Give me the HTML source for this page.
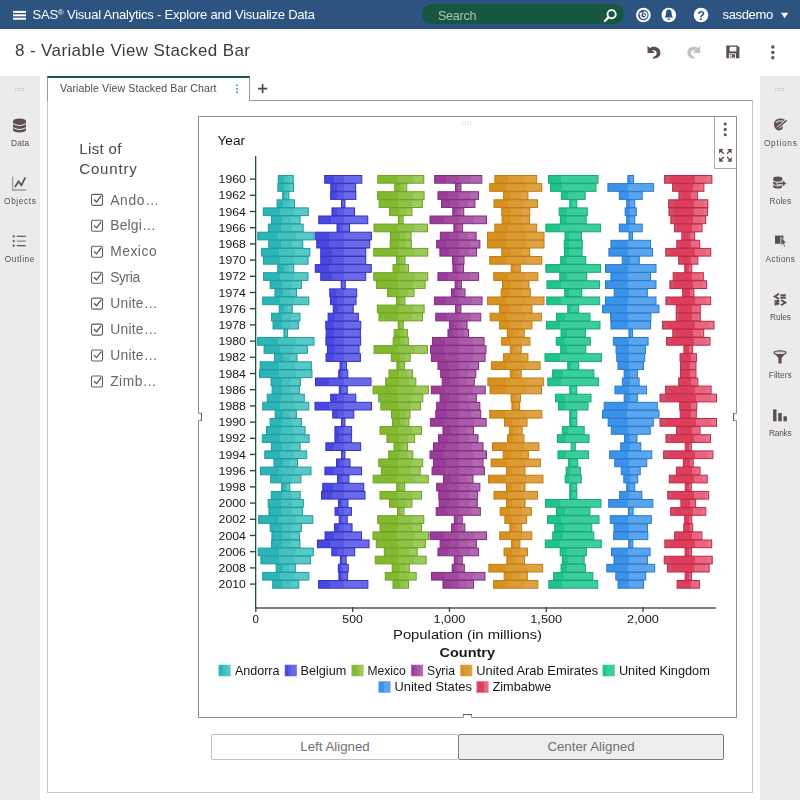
<!DOCTYPE html>
<html><head><meta charset="utf-8">
<style>
*{box-sizing:border-box;margin:0;padding:0}
html,body{width:800px;height:800px;overflow:hidden;background:#fff;font-family:"Liberation Sans",sans-serif;}
.abs{position:absolute}
#topbar{left:0;top:0;width:800px;height:29px;background:#2d5380}
#topbar .title{left:32px;top:6px;color:#fff;font-size:13px;white-space:nowrap;letter-spacing:-0.1px}
#search{left:422px;top:5px;width:202px;height:20px;border-radius:10px;background:#18573f}
#search span{position:absolute;left:16px;top:3px;font-size:12.5px;color:#a9c6b8}
#titlebar{left:0;top:29px;width:800px;height:47px;background:#fff}
#titlebar .t{left:15px;top:11px;font-size:17.5px;color:#3a3a3a;white-space:nowrap;letter-spacing:0.35px}
#leftpanel{left:0;top:76px;width:40px;height:724px;background:#ebebeb}
#rightpanel{left:760px;top:76px;width:40px;height:724px;background:#ebebeb}
.plabel{position:absolute;width:40px;text-align:center;font-size:8.5px;color:#5a4e4e}
#tab{left:47px;top:76px;width:203px;height:25px;border-top:2px solid #0e5c47;border-left:1px solid #9a9a9a;border-right:1px solid #9a9a9a;background:#fff}
#tab span{position:absolute;left:13px;top:4px;font-size:10.5px;color:#444;white-space:nowrap}
#canvas{left:47px;top:100px;width:706px;height:693px;border:1px solid #c8c8c8;border-top:1px solid #9a9a9a;background:#fff}
#chartframe{left:198px;top:116px;width:539px;height:602px;border:1px solid #8e8e8e;background:#fff}
.btn{position:absolute;top:734px;height:26px;font-size:13.3px;color:#707070;text-align:center;line-height:24px;border:1px solid #c2c2c2;border-radius:2px}
.ct{font-family:"Liberation Sans",sans-serif;fill:#161616}
</style></head><body>
<div id="topbar" class="abs"></div>
<div id="titlebar" class="abs"></div>
<div id="leftpanel" class="abs"></div>
<div id="rightpanel" class="abs"></div>
<div id="canvas" class="abs"></div>
<div id="tab" class="abs"></div>
<div id="chartframe" class="abs"></div>
<!--UISTART--><svg class="abs" style="left:0;top:0;will-change:transform" width="800" height="800" viewBox="0 0 800 800">
<g fill="#fff"><rect x="13" y="10.9" width="13" height="2"/><rect x="13" y="14.3" width="13" height="2"/><rect x="13" y="17.7" width="13" height="2"/></g>
<text x="32.5" y="19" font-size="13" fill="#fff" font-family="Liberation Sans, sans-serif" textLength="282.5" lengthAdjust="spacing">SAS<tspan font-size="8" dy="-4">®</tspan><tspan dy="4"> Visual Analytics - Explore and Visualize Data</tspan></text>
<rect x="422" y="4" width="202" height="20" rx="10" fill="#18573f"/>
<text x="438" y="19.5" font-size="12.6" fill="#a8c4b6" font-family="Liberation Sans, sans-serif" textLength="38.5" lengthAdjust="spacing">Search</text>
<circle cx="611.6" cy="14.2" r="4.1" fill="none" stroke="#fff" stroke-width="1.9"/><path d="M608.7 17.3 L604.9 20.9" stroke="#fff" stroke-width="2.2" stroke-linecap="round"/>
<circle cx="643.4" cy="15" r="6.3" fill="none" stroke="#fff" stroke-width="2.1"/>
<path d="M640.5 15.3 A3.1 3.1 0 1 0 643.6 12" fill="none" stroke="#fff" stroke-width="1.5"/><path d="M639 13 L642.8 12.2 L640.8 15.8 Z" fill="#fff"/><path d="M643.7 13.4 V15.5 H645.2" fill="none" stroke="#fff" stroke-width="1.1"/>
<circle cx="668.8" cy="15" r="7.3" fill="#fff"/>
<path d="M668.8 9.6 C666.4 9.6 665.9 12 665.9 14 C665.9 16 665 17 664.4 17.6 H673.2 C672.6 17 671.7 16 671.7 14 C671.7 12 671.2 9.6 668.8 9.6 Z" fill="#2d5380"/><rect x="667.3" y="18.5" width="3" height="1.3" rx="0.6" fill="#2d5380"/>
<circle cx="701" cy="15" r="7.3" fill="#fff"/>
<text x="701" y="19.6" font-size="12.5" font-weight="bold" fill="#2d5380" text-anchor="middle" font-family="Liberation Sans, sans-serif">?</text>
<text x="722.5" y="18.8" font-size="13" fill="#fff" font-family="Liberation Sans, sans-serif" textLength="50.7" lengthAdjust="spacing">sasdemo</text>
<path d="M781 12.8 H788.2 L784.6 18.2 Z" fill="#fff"/>
<text x="15" y="56" font-size="17" fill="#3c3c3c" font-family="Liberation Sans, sans-serif" textLength="235" lengthAdjust="spacing">8 - Variable View Stacked Bar</text>
<g transform="translate(647.5 0)"><path d="M0 45.8 L0 53 L7.2 53 L4.8 50.6 C6.6 49.6 9.2 50.4 9.2 53.2 C9.2 55.2 7.8 56.4 5.4 56.8 L5.8 58.8 C10 58.6 12.9 56.4 12.9 52.8 C12.9 47.4 6.6 45 2.3 48.1 Z" fill="#5e4f4f"/></g>
<g transform="translate(700.1999999999999 0) scale(-1 1)"><path d="M0 45.8 L0 53 L7.2 53 L4.8 50.6 C6.6 49.6 9.2 50.4 9.2 53.2 C9.2 55.2 7.8 56.4 5.4 56.8 L5.8 58.8 C10 58.6 12.9 56.4 12.9 52.8 C12.9 47.4 6.6 45 2.3 48.1 Z" fill="#c2c2c2"/></g>
<path d="M726.3 45.6 H737.4 L739.4 47.6 V58.3 H726.3 Z" fill="#5e4f4f"/><rect x="729.6" y="46.8" width="6.8" height="4.6" fill="#fff"/><rect x="728.9" y="53.4" width="7" height="4.9" fill="#fff"/><rect x="729.8" y="54.3" width="5.2" height="3.2" fill="#5e4f4f"/><rect x="730.4" y="55" width="1.6" height="1.8" fill="#fff"/>
<g fill="#5e4f4f"><circle cx="772.8" cy="47" r="1.7"/><circle cx="772.8" cy="52.4" r="1.7"/><circle cx="772.8" cy="57.7" r="1.7"/></g>
<text x="60" y="92.4" font-size="10.6" fill="#4c4c4c" font-family="Liberation Sans, sans-serif" textLength="156.5" lengthAdjust="spacing">Variable View Stacked Bar Chart</text>
<g fill="#3a80d2"><circle cx="237" cy="85.3" r="0.95"/><circle cx="237" cy="88.8" r="0.95"/><circle cx="237" cy="92.3" r="0.95"/></g>
<path d="M258 88.6 H267.2 M262.6 84 V93.2" stroke="#554848" stroke-width="1.7"/>
<rect x="15.2" y="88.0" width="1" height="1" fill="#b4b4b4"/><rect x="15.2" y="90.1" width="1" height="1" fill="#b4b4b4"/><rect x="17.8" y="88.0" width="1" height="1" fill="#b4b4b4"/><rect x="17.8" y="90.1" width="1" height="1" fill="#b4b4b4"/><rect x="20.4" y="88.0" width="1" height="1" fill="#b4b4b4"/><rect x="20.4" y="90.1" width="1" height="1" fill="#b4b4b4"/><rect x="23.0" y="88.0" width="1" height="1" fill="#b4b4b4"/><rect x="23.0" y="90.1" width="1" height="1" fill="#b4b4b4"/>
<rect x="775.2" y="88.0" width="1" height="1" fill="#b4b4b4"/><rect x="775.2" y="90.1" width="1" height="1" fill="#b4b4b4"/><rect x="777.8" y="88.0" width="1" height="1" fill="#b4b4b4"/><rect x="777.8" y="90.1" width="1" height="1" fill="#b4b4b4"/><rect x="780.4" y="88.0" width="1" height="1" fill="#b4b4b4"/><rect x="780.4" y="90.1" width="1" height="1" fill="#b4b4b4"/><rect x="783.0" y="88.0" width="1" height="1" fill="#b4b4b4"/><rect x="783.0" y="90.1" width="1" height="1" fill="#b4b4b4"/>
<rect x="462.2" y="121.6" width="1" height="1" fill="#c4c4c4"/><rect x="462.2" y="123.7" width="1" height="1" fill="#c4c4c4"/><rect x="464.8" y="121.6" width="1" height="1" fill="#c4c4c4"/><rect x="464.8" y="123.7" width="1" height="1" fill="#c4c4c4"/><rect x="467.4" y="121.6" width="1" height="1" fill="#c4c4c4"/><rect x="467.4" y="123.7" width="1" height="1" fill="#c4c4c4"/><rect x="470.0" y="121.6" width="1" height="1" fill="#c4c4c4"/><rect x="470.0" y="123.7" width="1" height="1" fill="#c4c4c4"/>
<path d="M13 121 A6.5 2.6 0 0 1 26 121 V130 A6.5 2.6 0 0 1 13 130 Z" fill="#5e4f4f"/><path d="M13 123.6 Q19.5 127.4 26 123.6 M13 127.6 Q19.5 131.4 26 127.6" fill="none" stroke="#ebebeb" stroke-width="1.1"/>
<path d="M12.7 176.4 V190 H26.2" fill="none" stroke="#a39a9a" stroke-width="1.3"/>
<path d="M15 187 L18.6 181.3 L21.4 185.4 L25.3 177.4" fill="none" stroke="#5e4f4f" stroke-width="1.7" stroke-linejoin="miter"/>
<circle cx="13.7" cy="236.3" r="1.1" fill="#5e4f4f"/><rect x="16.8" y="235.70000000000002" width="9" height="1.2" fill="#5e4f4f"/>
<circle cx="13.7" cy="241.1" r="1.1" fill="#5e4f4f"/><rect x="16.8" y="240.5" width="9" height="1.2" fill="#7f8893"/>
<circle cx="13.7" cy="245.7" r="1.1" fill="#5e4f4f"/><rect x="16.8" y="245.1" width="9" height="1.2" fill="#5e4f4f"/>
<text x="11" y="145.7" font-size="8.3" fill="#5a4d4d" font-family="Liberation Sans, sans-serif" textLength="18" lengthAdjust="spacing">Data</text>
<text x="4.1" y="203.7" font-size="8.3" fill="#5a4d4d" font-family="Liberation Sans, sans-serif" textLength="31.7" lengthAdjust="spacing">Objects</text>
<text x="4.8" y="261.8" font-size="8.3" fill="#5a4d4d" font-family="Liberation Sans, sans-serif" textLength="29.6" lengthAdjust="spacing">Outline</text>
<text x="763.9" y="145.9" font-size="8.3" fill="#5a4d4d" font-family="Liberation Sans, sans-serif" textLength="32.9" lengthAdjust="spacing">Options</text>
<text x="769.6" y="203.8" font-size="8.3" fill="#5a4d4d" font-family="Liberation Sans, sans-serif" textLength="21.6" lengthAdjust="spacing">Roles</text>
<text x="765.6" y="261.9" font-size="8.3" fill="#5a4d4d" font-family="Liberation Sans, sans-serif" textLength="29.4" lengthAdjust="spacing">Actions</text>
<text x="770" y="319.5" font-size="8.3" fill="#5a4d4d" font-family="Liberation Sans, sans-serif" textLength="21" lengthAdjust="spacing">Rules</text>
<text x="768.8" y="377.5" font-size="8.3" fill="#5a4d4d" font-family="Liberation Sans, sans-serif" textLength="22.8" lengthAdjust="spacing">Filters</text>
<text x="769" y="435.6" font-size="8.3" fill="#5a4d4d" font-family="Liberation Sans, sans-serif" textLength="22.6" lengthAdjust="spacing">Ranks</text>
<path d="M774 124.2 C774 120.6 777.4 118.4 781 118.6 C784 118.8 786.4 120.6 785.8 122.4 C785.4 123.6 783.6 123.4 782.8 124.4 C781.8 125.8 783.6 127.2 782.4 128.8 C781 130.8 778 130.8 776.2 129.4 C774.8 128.2 774 126.4 774 124.2 Z" fill="#5e4f4f"/>
<path d="M777.2 128.6 L786.6 120.4" stroke="#ebebeb" stroke-width="3" stroke-linecap="round"/>
<path d="M778.4 127.6 L786.2 120.8" stroke="#5e4f4f" stroke-width="1.5" stroke-linecap="round"/><circle cx="777.6" cy="128.4" r="1.6" fill="#5e4f4f"/>
<path d="M776 122.6 Q779.6 119.8 783.6 121.4" fill="none" stroke="#ebebeb" stroke-width="1.1"/>
<path d="M773.2 178.6 A4.6 2.1 0 0 1 782.4 178.6 V186.4 A4.6 2.1 0 0 1 773.2 186.4 Z" fill="#5e4f4f"/><path d="M773.2 180.8 Q777.8 184 782.4 180.8 M773.2 184.4 Q777.8 187.6 782.4 184.4" fill="none" stroke="#ebebeb" stroke-width="1"/>
<path d="M777 182.2 H782.4 V179.8 L786.6 183.4 L782.4 187 V184.6 H777 Z" fill="#5e4f4f" stroke="#ebebeb" stroke-width="0.8"/>
<rect x="775" y="235.6" width="8.4" height="8.2" fill="#5e4f4f"/>
<path d="M780.8 237.2 L780.8 245.6 L782.7 243.9 L784.2 247 L785.6 246.3 L784.1 243.3 L786.6 243 Z" fill="#5e4f4f" stroke="#ebebeb" stroke-width="0.8"/>
<g fill="none" stroke="#5e4f4f" stroke-width="1.9"><path d="M779 293.8 L774.8 296.4 L779 299"/><path d="M780.4 295.2 H785.8 M780.4 297.8 H785.8"/><path d="M774.4 301.2 H779.4 M774.4 303.8 H779.4 M778.4 299.8 L775.4 305.4"/><path d="M781 300 L785.4 302.6 L781 305.2"/></g>
<path d="M773.8 352.6 L778.4 358 V363.4 H781.6 V358 L786.2 352.6 Z" fill="#5e4f4f"/><ellipse cx="780" cy="352.8" rx="6" ry="1.9" fill="#d8d2d2" stroke="#5e4f4f" stroke-width="1.2"/>
<g fill="#5e4f4f"><rect x="773.1" y="409.4" width="3.4" height="11.9"/><rect x="778.2" y="413.1" width="3.6" height="8.2"/><rect x="783.5" y="416.3" width="3.4" height="5"/></g>
<path d="M714.5 116.5 V168.5 H736.5" fill="#fff" stroke="#a8a8a8" stroke-width="1"/>
<g fill="#5e4f4f"><circle cx="725.2" cy="124" r="1.55"/><circle cx="725.2" cy="129.4" r="1.55"/><circle cx="725.2" cy="134.8" r="1.55"/></g>
<path d="M719.1 149.1 L723.7 149.1 L719.1 153.7 Z" fill="#5e4f4f"/>
<path d="M720.6 150.6 L723.8 153.8" stroke="#5e4f4f" stroke-width="1.4"/>
<path d="M731.7 149.1 L727.1 149.1 L731.7 153.7 Z" fill="#5e4f4f"/>
<path d="M730.2 150.6 L727.0 153.8" stroke="#5e4f4f" stroke-width="1.4"/>
<path d="M719.1 161.7 L723.7 161.7 L719.1 157.1 Z" fill="#5e4f4f"/>
<path d="M720.6 160.2 L723.8 157.0" stroke="#5e4f4f" stroke-width="1.4"/>
<path d="M731.7 161.7 L727.1 161.7 L731.7 157.1 Z" fill="#5e4f4f"/>
<path d="M730.2 160.2 L727.0 157.0" stroke="#5e4f4f" stroke-width="1.4"/>
<rect x="197.6" y="413.6" width="2" height="6.8" fill="#fff"/><path d="M198.5 413.3 H201.4 M198.5 420.6 H201.4" stroke="#8e8e8e" stroke-width="1" fill="none"/><path d="M201.4 413 V421" stroke="#5e4f4f" stroke-width="1"/>
<rect x="735.4" y="413.6" width="2" height="6.8" fill="#fff"/><path d="M736.5 413.3 H733.6 M736.5 420.6 H733.6" stroke="#8e8e8e" stroke-width="1" fill="none"/><path d="M733.6 413 V421" stroke="#5e4f4f" stroke-width="1"/>
<rect x="463.6" y="716.4" width="7.8" height="2" fill="#fff"/><path d="M463.4 717.5 V714.6 M471.6 717.5 V714.6" stroke="#8e8e8e" stroke-width="1" fill="none"/><path d="M463 714.6 H472" stroke="#5e4f4f" stroke-width="1"/>
</svg><!--UIEND-->
<!--CHARTSTART--><svg class="abs" style="left:0;top:0;will-change:transform" width="800" height="800" viewBox="0 0 800 800">
<defs>
<linearGradient id="g0" x1="0" y1="0" x2="1" y2="0"><stop offset="0" stop-color="#2bb5b6"/><stop offset="0.37" stop-color="#2bb5b6"/><stop offset="0.37" stop-color="#45c1c0"/><stop offset="0.69" stop-color="#45c1c0"/><stop offset="0.69" stop-color="#58c9c6"/><stop offset="1" stop-color="#58c9c6"/></linearGradient>
<linearGradient id="g1" x1="0" y1="0" x2="1" y2="0"><stop offset="0" stop-color="#4848e0"/><stop offset="0.24" stop-color="#4848e0"/><stop offset="0.24" stop-color="#5959e3"/><stop offset="0.52" stop-color="#5959e3"/><stop offset="0.52" stop-color="#6a6ae7"/><stop offset="1" stop-color="#6a6ae7"/></linearGradient>
<linearGradient id="g2" x1="0" y1="0" x2="1" y2="0"><stop offset="0" stop-color="#82b92e"/><stop offset="0.44" stop-color="#82b92e"/><stop offset="0.44" stop-color="#90c247"/><stop offset="0.76" stop-color="#90c247"/><stop offset="0.76" stop-color="#9dca5c"/><stop offset="1" stop-color="#9dca5c"/></linearGradient>
<linearGradient id="g3" x1="0" y1="0" x2="1" y2="0"><stop offset="0" stop-color="#9a3d98"/><stop offset="0.25" stop-color="#9a3d98"/><stop offset="0.25" stop-color="#a14b9f"/><stop offset="0.51" stop-color="#a14b9f"/><stop offset="0.51" stop-color="#a95aa7"/><stop offset="0.78" stop-color="#a95aa7"/><stop offset="0.78" stop-color="#b069ae"/><stop offset="1" stop-color="#b069ae"/></linearGradient>
<linearGradient id="g4" x1="0" y1="0" x2="1" y2="0"><stop offset="0" stop-color="#d8901f"/><stop offset="0.32" stop-color="#d8901f"/><stop offset="0.32" stop-color="#dc9a33"/><stop offset="0.7" stop-color="#dc9a33"/><stop offset="0.7" stop-color="#dfa243"/><stop offset="1" stop-color="#dfa243"/></linearGradient>
<linearGradient id="g5" x1="0" y1="0" x2="1" y2="0"><stop offset="0" stop-color="#1fc48b"/><stop offset="0.26" stop-color="#1fc48b"/><stop offset="0.26" stop-color="#3bcd9c"/><stop offset="1" stop-color="#3bcd9c"/></linearGradient>
<linearGradient id="g6" x1="0" y1="0" x2="1" y2="0"><stop offset="0" stop-color="#3a93e8"/><stop offset="0.44" stop-color="#3a93e8"/><stop offset="0.44" stop-color="#5aa6ee"/><stop offset="1" stop-color="#5aa6ee"/></linearGradient>
<linearGradient id="g7" x1="0" y1="0" x2="1" y2="0"><stop offset="0" stop-color="#cc5069"/><stop offset="0.105" stop-color="#cc5069"/><stop offset="0.105" stop-color="#dc3e5b"/><stop offset="0.64" stop-color="#dc3e5b"/><stop offset="0.64" stop-color="#e5667d"/><stop offset="0.9" stop-color="#e5667d"/><stop offset="0.9" stop-color="#e8738a"/><stop offset="1" stop-color="#e8738a"/></linearGradient>
</defs>
<rect x="255" y="156" width="1.3" height="453" fill="#0e5c47"/>
<rect x="255" y="607.3" width="461" height="1.4" fill="#4a4a4a"/>
<rect x="250" y="178.45" width="5.5" height="1.3" fill="#3a3a3a"/>
<text class="ct" x="218.6" y="183.15" font-size="11.4" textLength="27.3" lengthAdjust="spacingAndGlyphs">1960</text>
<rect x="250" y="194.65" width="5.5" height="1.3" fill="#3a3a3a"/>
<text class="ct" x="218.6" y="199.35" font-size="11.4" textLength="27.3" lengthAdjust="spacingAndGlyphs">1962</text>
<rect x="250" y="210.85" width="5.5" height="1.3" fill="#3a3a3a"/>
<text class="ct" x="218.6" y="215.55" font-size="11.4" textLength="27.3" lengthAdjust="spacingAndGlyphs">1964</text>
<rect x="250" y="227.05" width="5.5" height="1.3" fill="#3a3a3a"/>
<text class="ct" x="218.6" y="231.75" font-size="11.4" textLength="27.3" lengthAdjust="spacingAndGlyphs">1966</text>
<rect x="250" y="243.25" width="5.5" height="1.3" fill="#3a3a3a"/>
<text class="ct" x="218.6" y="247.95" font-size="11.4" textLength="27.3" lengthAdjust="spacingAndGlyphs">1968</text>
<rect x="250" y="259.45" width="5.5" height="1.3" fill="#3a3a3a"/>
<text class="ct" x="218.6" y="264.15" font-size="11.4" textLength="27.3" lengthAdjust="spacingAndGlyphs">1970</text>
<rect x="250" y="275.65" width="5.5" height="1.3" fill="#3a3a3a"/>
<text class="ct" x="218.6" y="280.35" font-size="11.4" textLength="27.3" lengthAdjust="spacingAndGlyphs">1972</text>
<rect x="250" y="291.85" width="5.5" height="1.3" fill="#3a3a3a"/>
<text class="ct" x="218.6" y="296.55" font-size="11.4" textLength="27.3" lengthAdjust="spacingAndGlyphs">1974</text>
<rect x="250" y="308.05" width="5.5" height="1.3" fill="#3a3a3a"/>
<text class="ct" x="218.6" y="312.75" font-size="11.4" textLength="27.3" lengthAdjust="spacingAndGlyphs">1976</text>
<rect x="250" y="324.25" width="5.5" height="1.3" fill="#3a3a3a"/>
<text class="ct" x="218.6" y="328.95" font-size="11.4" textLength="27.3" lengthAdjust="spacingAndGlyphs">1978</text>
<rect x="250" y="340.45" width="5.5" height="1.3" fill="#3a3a3a"/>
<text class="ct" x="218.6" y="345.15" font-size="11.4" textLength="27.3" lengthAdjust="spacingAndGlyphs">1980</text>
<rect x="250" y="356.65" width="5.5" height="1.3" fill="#3a3a3a"/>
<text class="ct" x="218.6" y="361.35" font-size="11.4" textLength="27.3" lengthAdjust="spacingAndGlyphs">1982</text>
<rect x="250" y="372.85" width="5.5" height="1.3" fill="#3a3a3a"/>
<text class="ct" x="218.6" y="377.55" font-size="11.4" textLength="27.3" lengthAdjust="spacingAndGlyphs">1984</text>
<rect x="250" y="389.05" width="5.5" height="1.3" fill="#3a3a3a"/>
<text class="ct" x="218.6" y="393.75" font-size="11.4" textLength="27.3" lengthAdjust="spacingAndGlyphs">1986</text>
<rect x="250" y="405.25" width="5.5" height="1.3" fill="#3a3a3a"/>
<text class="ct" x="218.6" y="409.95" font-size="11.4" textLength="27.3" lengthAdjust="spacingAndGlyphs">1988</text>
<rect x="250" y="421.45" width="5.5" height="1.3" fill="#3a3a3a"/>
<text class="ct" x="218.6" y="426.15" font-size="11.4" textLength="27.3" lengthAdjust="spacingAndGlyphs">1990</text>
<rect x="250" y="437.65" width="5.5" height="1.3" fill="#3a3a3a"/>
<text class="ct" x="218.6" y="442.35" font-size="11.4" textLength="27.3" lengthAdjust="spacingAndGlyphs">1992</text>
<rect x="250" y="453.85" width="5.5" height="1.3" fill="#3a3a3a"/>
<text class="ct" x="218.6" y="458.55" font-size="11.4" textLength="27.3" lengthAdjust="spacingAndGlyphs">1994</text>
<rect x="250" y="470.05" width="5.5" height="1.3" fill="#3a3a3a"/>
<text class="ct" x="218.6" y="474.75" font-size="11.4" textLength="27.3" lengthAdjust="spacingAndGlyphs">1996</text>
<rect x="250" y="486.25" width="5.5" height="1.3" fill="#3a3a3a"/>
<text class="ct" x="218.6" y="490.95" font-size="11.4" textLength="27.3" lengthAdjust="spacingAndGlyphs">1998</text>
<rect x="250" y="502.45" width="5.5" height="1.3" fill="#3a3a3a"/>
<text class="ct" x="218.6" y="507.15" font-size="11.4" textLength="27.3" lengthAdjust="spacingAndGlyphs">2000</text>
<rect x="250" y="518.65" width="5.5" height="1.3" fill="#3a3a3a"/>
<text class="ct" x="218.6" y="523.35" font-size="11.4" textLength="27.3" lengthAdjust="spacingAndGlyphs">2002</text>
<rect x="250" y="534.85" width="5.5" height="1.3" fill="#3a3a3a"/>
<text class="ct" x="218.6" y="539.55" font-size="11.4" textLength="27.3" lengthAdjust="spacingAndGlyphs">2004</text>
<rect x="250" y="551.05" width="5.5" height="1.3" fill="#3a3a3a"/>
<text class="ct" x="218.6" y="555.75" font-size="11.4" textLength="27.3" lengthAdjust="spacingAndGlyphs">2006</text>
<rect x="250" y="567.25" width="5.5" height="1.3" fill="#3a3a3a"/>
<text class="ct" x="218.6" y="571.95" font-size="11.4" textLength="27.3" lengthAdjust="spacingAndGlyphs">2008</text>
<rect x="250" y="583.45" width="5.5" height="1.3" fill="#3a3a3a"/>
<text class="ct" x="218.6" y="588.15" font-size="11.4" textLength="27.3" lengthAdjust="spacingAndGlyphs">2010</text>
<rect x="255.20" y="607" width="1.3" height="5" fill="#0e5c47"/>
<text class="ct" x="252.60" y="623" font-size="11.6" textLength="6.4" lengthAdjust="spacingAndGlyphs">0</text>
<rect x="352.00" y="607" width="1.3" height="5" fill="#0e5c47"/>
<text class="ct" x="342.35" y="623" font-size="11.6" textLength="20.5" lengthAdjust="spacingAndGlyphs">500</text>
<rect x="448.80" y="607" width="1.3" height="5" fill="#0e5c47"/>
<text class="ct" x="433.45" y="623" font-size="11.6" textLength="31.9" lengthAdjust="spacingAndGlyphs">1,000</text>
<rect x="545.60" y="607" width="1.3" height="5" fill="#0e5c47"/>
<text class="ct" x="530.25" y="623" font-size="11.6" textLength="31.9" lengthAdjust="spacingAndGlyphs">1,500</text>
<rect x="642.40" y="607" width="1.3" height="5" fill="#0e5c47"/>
<text class="ct" x="627.05" y="623" font-size="11.6" textLength="31.9" lengthAdjust="spacingAndGlyphs">2,000</text>
<text class="ct" x="217.5" y="144.8" font-size="12" textLength="27.5" lengthAdjust="spacingAndGlyphs">Year</text>
<text class="ct" x="393" y="638.8" font-size="12.5" textLength="149" lengthAdjust="spacingAndGlyphs">Population (in millions)</text>
<text class="ct" x="439.5" y="657" font-size="12.2" font-weight="bold" textLength="55.5" lengthAdjust="spacingAndGlyphs">Country</text>
<g fill="url(#g0)" stroke="#1f9c9d" stroke-width="1">
<rect x="278.30" y="175.50" width="14.90" height="7.70"/>
<rect x="277.85" y="183.60" width="15.80" height="7.70"/>
<rect x="282.60" y="191.70" width="6.30" height="7.70"/>
<rect x="277.05" y="199.80" width="17.40" height="7.70"/>
<rect x="263.20" y="207.90" width="45.10" height="7.70"/>
<rect x="271.45" y="216.00" width="28.60" height="7.70"/>
<rect x="268.35" y="224.10" width="34.80" height="7.70"/>
<rect x="257.75" y="232.20" width="56.00" height="7.70"/>
<rect x="268.70" y="240.30" width="34.10" height="7.70"/>
<rect x="261.60" y="248.40" width="48.30" height="7.70"/>
<rect x="263.40" y="256.50" width="44.70" height="7.70"/>
<rect x="277.75" y="264.60" width="16.00" height="7.70"/>
<rect x="263.55" y="272.70" width="44.40" height="7.70"/>
<rect x="270.15" y="280.80" width="31.20" height="7.70"/>
<rect x="274.95" y="288.90" width="21.60" height="7.70"/>
<rect x="262.70" y="297.00" width="46.10" height="7.70"/>
<rect x="279.20" y="305.10" width="13.10" height="7.70"/>
<rect x="271.55" y="313.20" width="28.40" height="7.70"/>
<rect x="273.05" y="321.30" width="25.40" height="7.70"/>
<rect x="283.95" y="329.40" width="3.60" height="7.70"/>
<rect x="257.50" y="337.50" width="56.50" height="7.70"/>
<rect x="264.05" y="345.60" width="43.40" height="7.70"/>
<rect x="274.45" y="353.70" width="22.60" height="7.70"/>
<rect x="260.15" y="361.80" width="51.20" height="7.70"/>
<rect x="259.55" y="369.90" width="52.40" height="7.70"/>
<rect x="271.05" y="378.00" width="29.40" height="7.70"/>
<rect x="272.10" y="386.10" width="27.30" height="7.70"/>
<rect x="267.20" y="394.20" width="37.10" height="7.70"/>
<rect x="262.70" y="402.30" width="46.10" height="7.70"/>
<rect x="275.15" y="410.40" width="21.20" height="7.70"/>
<rect x="270.10" y="418.50" width="31.30" height="7.70"/>
<rect x="266.45" y="426.60" width="38.60" height="7.70"/>
<rect x="262.35" y="434.70" width="46.80" height="7.70"/>
<rect x="271.40" y="442.80" width="28.70" height="7.70"/>
<rect x="264.80" y="450.90" width="41.90" height="7.70"/>
<rect x="273.95" y="459.00" width="23.60" height="7.70"/>
<rect x="260.50" y="467.10" width="50.50" height="7.70"/>
<rect x="270.60" y="475.20" width="30.30" height="7.70"/>
<rect x="281.70" y="483.30" width="8.10" height="7.70"/>
<rect x="271.30" y="491.40" width="28.90" height="7.70"/>
<rect x="268.15" y="499.50" width="35.20" height="7.70"/>
<rect x="268.90" y="507.60" width="33.70" height="7.70"/>
<rect x="258.70" y="515.70" width="54.10" height="7.70"/>
<rect x="270.15" y="523.80" width="31.20" height="7.70"/>
<rect x="271.90" y="531.90" width="27.70" height="7.70"/>
<rect x="271.55" y="540.00" width="28.40" height="7.70"/>
<rect x="258.20" y="548.10" width="55.10" height="7.70"/>
<rect x="260.90" y="556.20" width="49.70" height="7.70"/>
<rect x="276.10" y="564.30" width="19.30" height="7.70"/>
<rect x="262.70" y="572.40" width="46.10" height="7.70"/>
<rect x="272.70" y="580.50" width="26.10" height="7.70"/>
</g>
<g fill="url(#g1)" stroke="#3232c8" stroke-width="1">
<rect x="324.70" y="175.50" width="37.10" height="7.70"/>
<rect x="330.85" y="183.60" width="24.80" height="7.70"/>
<rect x="330.65" y="191.70" width="25.20" height="7.70"/>
<rect x="341.55" y="199.80" width="3.40" height="7.70"/>
<rect x="331.95" y="207.90" width="22.60" height="7.70"/>
<rect x="318.75" y="216.00" width="49.00" height="7.70"/>
<rect x="337.00" y="224.10" width="12.50" height="7.70"/>
<rect x="315.10" y="232.20" width="56.30" height="7.70"/>
<rect x="316.80" y="240.30" width="52.90" height="7.70"/>
<rect x="320.75" y="248.40" width="45.00" height="7.70"/>
<rect x="320.75" y="256.50" width="45.00" height="7.70"/>
<rect x="315.25" y="264.60" width="56.00" height="7.70"/>
<rect x="320.75" y="272.70" width="45.00" height="7.70"/>
<rect x="341.20" y="280.80" width="4.10" height="7.70"/>
<rect x="329.75" y="288.90" width="27.00" height="7.70"/>
<rect x="330.50" y="297.00" width="25.50" height="7.70"/>
<rect x="333.25" y="305.10" width="20.00" height="7.70"/>
<rect x="328.10" y="313.20" width="30.30" height="7.70"/>
<rect x="325.75" y="321.30" width="35.00" height="7.70"/>
<rect x="326.15" y="329.40" width="34.20" height="7.70"/>
<rect x="325.85" y="337.50" width="34.80" height="7.70"/>
<rect x="327.45" y="345.60" width="31.60" height="7.70"/>
<rect x="326.05" y="353.70" width="34.40" height="7.70"/>
<rect x="340.10" y="361.80" width="6.30" height="7.70"/>
<rect x="338.70" y="369.90" width="9.10" height="7.70"/>
<rect x="315.50" y="378.00" width="55.50" height="7.70"/>
<rect x="339.25" y="386.10" width="8.00" height="7.70"/>
<rect x="330.70" y="394.20" width="25.10" height="7.70"/>
<rect x="315.00" y="402.30" width="56.50" height="7.70"/>
<rect x="332.75" y="410.40" width="21.00" height="7.70"/>
<rect x="341.55" y="418.50" width="3.40" height="7.70"/>
<rect x="334.90" y="426.60" width="16.70" height="7.70"/>
<rect x="334.90" y="434.70" width="16.70" height="7.70"/>
<rect x="325.85" y="442.80" width="34.80" height="7.70"/>
<rect x="341.55" y="450.90" width="3.40" height="7.70"/>
<rect x="336.50" y="459.00" width="13.50" height="7.70"/>
<rect x="324.90" y="467.10" width="36.70" height="7.70"/>
<rect x="337.60" y="475.20" width="11.30" height="7.70"/>
<rect x="322.75" y="483.30" width="41.00" height="7.70"/>
<rect x="321.50" y="491.40" width="43.50" height="7.70"/>
<rect x="338.55" y="499.50" width="9.40" height="7.70"/>
<rect x="335.05" y="507.60" width="16.40" height="7.70"/>
<rect x="339.25" y="515.70" width="8.00" height="7.70"/>
<rect x="334.45" y="523.80" width="17.60" height="7.70"/>
<rect x="325.05" y="531.90" width="36.40" height="7.70"/>
<rect x="317.45" y="540.00" width="51.60" height="7.70"/>
<rect x="331.80" y="548.10" width="22.90" height="7.70"/>
<rect x="340.35" y="556.20" width="5.80" height="7.70"/>
<rect x="338.30" y="564.30" width="9.90" height="7.70"/>
<rect x="338.90" y="572.40" width="8.70" height="7.70"/>
<rect x="318.60" y="580.50" width="49.30" height="7.70"/>
</g>
<g fill="url(#g2)" stroke="#6ea323" stroke-width="1">
<rect x="377.70" y="175.50" width="46.10" height="7.70"/>
<rect x="394.75" y="183.60" width="12.00" height="7.70"/>
<rect x="377.40" y="191.70" width="46.70" height="7.70"/>
<rect x="379.15" y="199.80" width="43.20" height="7.70"/>
<rect x="389.65" y="207.90" width="22.20" height="7.70"/>
<rect x="398.35" y="216.00" width="4.80" height="7.70"/>
<rect x="374.05" y="224.10" width="53.40" height="7.70"/>
<rect x="390.40" y="232.20" width="20.70" height="7.70"/>
<rect x="390.15" y="240.30" width="21.20" height="7.70"/>
<rect x="373.70" y="248.40" width="54.10" height="7.70"/>
<rect x="396.55" y="256.50" width="8.40" height="7.70"/>
<rect x="393.00" y="264.60" width="15.50" height="7.70"/>
<rect x="373.70" y="272.70" width="54.10" height="7.70"/>
<rect x="376.40" y="280.80" width="48.70" height="7.70"/>
<rect x="387.50" y="288.90" width="26.50" height="7.70"/>
<rect x="396.55" y="297.00" width="8.40" height="7.70"/>
<rect x="377.35" y="305.10" width="46.80" height="7.70"/>
<rect x="379.00" y="313.20" width="43.50" height="7.70"/>
<rect x="398.20" y="321.30" width="5.10" height="7.70"/>
<rect x="394.15" y="329.40" width="13.20" height="7.70"/>
<rect x="393.15" y="337.50" width="15.20" height="7.70"/>
<rect x="374.05" y="345.60" width="53.40" height="7.70"/>
<rect x="391.30" y="353.70" width="18.90" height="7.70"/>
<rect x="396.90" y="361.80" width="7.70" height="7.70"/>
<rect x="388.95" y="369.90" width="23.60" height="7.70"/>
<rect x="385.65" y="378.00" width="30.20" height="7.70"/>
<rect x="373.05" y="386.10" width="55.40" height="7.70"/>
<rect x="378.65" y="394.20" width="44.20" height="7.70"/>
<rect x="380.90" y="402.30" width="39.70" height="7.70"/>
<rect x="391.45" y="410.40" width="18.60" height="7.70"/>
<rect x="392.55" y="418.50" width="16.40" height="7.70"/>
<rect x="380.00" y="426.60" width="41.50" height="7.70"/>
<rect x="386.90" y="434.70" width="27.70" height="7.70"/>
<rect x="394.00" y="442.80" width="13.50" height="7.70"/>
<rect x="388.70" y="450.90" width="24.10" height="7.70"/>
<rect x="378.80" y="459.00" width="43.90" height="7.70"/>
<rect x="381.30" y="467.10" width="38.90" height="7.70"/>
<rect x="373.20" y="475.20" width="55.10" height="7.70"/>
<rect x="396.75" y="483.30" width="8.00" height="7.70"/>
<rect x="380.00" y="491.40" width="41.50" height="7.70"/>
<rect x="389.50" y="499.50" width="22.50" height="7.70"/>
<rect x="397.50" y="507.60" width="6.50" height="7.70"/>
<rect x="377.70" y="515.70" width="46.10" height="7.70"/>
<rect x="380.00" y="523.80" width="41.50" height="7.70"/>
<rect x="373.00" y="531.90" width="55.50" height="7.70"/>
<rect x="376.25" y="540.00" width="49.00" height="7.70"/>
<rect x="384.30" y="548.10" width="32.90" height="7.70"/>
<rect x="375.30" y="556.20" width="50.90" height="7.70"/>
<rect x="392.20" y="564.30" width="17.10" height="7.70"/>
<rect x="385.30" y="572.40" width="30.90" height="7.70"/>
<rect x="393.00" y="580.50" width="15.50" height="7.70"/>
</g>
<g fill="url(#g3)" stroke="#832c82" stroke-width="1">
<rect x="434.70" y="175.50" width="47.10" height="7.70"/>
<rect x="455.55" y="183.60" width="5.40" height="7.70"/>
<rect x="437.95" y="191.70" width="40.60" height="7.70"/>
<rect x="441.55" y="199.80" width="33.40" height="7.70"/>
<rect x="452.75" y="207.90" width="11.00" height="7.70"/>
<rect x="430.00" y="216.00" width="56.50" height="7.70"/>
<rect x="453.90" y="224.10" width="8.70" height="7.70"/>
<rect x="440.35" y="232.20" width="35.80" height="7.70"/>
<rect x="436.65" y="240.30" width="43.20" height="7.70"/>
<rect x="439.90" y="248.40" width="36.70" height="7.70"/>
<rect x="452.50" y="256.50" width="11.50" height="7.70"/>
<rect x="452.95" y="264.60" width="10.60" height="7.70"/>
<rect x="437.95" y="272.70" width="40.60" height="7.70"/>
<rect x="455.10" y="280.80" width="6.30" height="7.70"/>
<rect x="451.50" y="288.90" width="13.50" height="7.70"/>
<rect x="434.45" y="297.00" width="47.60" height="7.70"/>
<rect x="455.55" y="305.10" width="5.40" height="7.70"/>
<rect x="435.75" y="313.20" width="45.00" height="7.70"/>
<rect x="449.45" y="321.30" width="17.60" height="7.70"/>
<rect x="447.95" y="329.40" width="20.60" height="7.70"/>
<rect x="432.45" y="337.50" width="51.60" height="7.70"/>
<rect x="430.55" y="345.60" width="55.40" height="7.70"/>
<rect x="431.40" y="353.70" width="53.70" height="7.70"/>
<rect x="437.95" y="361.80" width="40.60" height="7.70"/>
<rect x="440.70" y="369.90" width="35.10" height="7.70"/>
<rect x="442.20" y="378.00" width="32.10" height="7.70"/>
<rect x="431.25" y="386.10" width="54.00" height="7.70"/>
<rect x="440.10" y="394.20" width="36.30" height="7.70"/>
<rect x="436.65" y="402.30" width="43.20" height="7.70"/>
<rect x="435.75" y="410.40" width="45.00" height="7.70"/>
<rect x="430.35" y="418.50" width="55.80" height="7.70"/>
<rect x="442.95" y="426.60" width="30.60" height="7.70"/>
<rect x="438.45" y="434.70" width="39.60" height="7.70"/>
<rect x="433.45" y="442.80" width="49.60" height="7.70"/>
<rect x="430.00" y="450.90" width="56.50" height="7.70"/>
<rect x="433.45" y="459.00" width="49.60" height="7.70"/>
<rect x="432.05" y="467.10" width="52.40" height="7.70"/>
<rect x="443.45" y="475.20" width="29.60" height="7.70"/>
<rect x="436.65" y="483.30" width="43.20" height="7.70"/>
<rect x="438.80" y="491.40" width="38.90" height="7.70"/>
<rect x="439.20" y="499.50" width="38.10" height="7.70"/>
<rect x="436.15" y="507.60" width="44.20" height="7.70"/>
<rect x="454.25" y="515.70" width="8.00" height="7.70"/>
<rect x="451.65" y="523.80" width="13.20" height="7.70"/>
<rect x="430.00" y="531.90" width="56.50" height="7.70"/>
<rect x="440.10" y="540.00" width="36.30" height="7.70"/>
<rect x="437.95" y="548.10" width="40.60" height="7.70"/>
<rect x="454.25" y="556.20" width="8.00" height="7.70"/>
<rect x="452.15" y="564.30" width="12.20" height="7.70"/>
<rect x="431.55" y="572.40" width="53.40" height="7.70"/>
<rect x="442.95" y="580.50" width="30.60" height="7.70"/>
</g>
<g fill="url(#g4)" stroke="#c07d14" stroke-width="1">
<rect x="494.85" y="175.50" width="41.80" height="7.70"/>
<rect x="489.70" y="183.60" width="52.10" height="7.70"/>
<rect x="503.55" y="191.70" width="24.40" height="7.70"/>
<rect x="494.00" y="199.80" width="43.50" height="7.70"/>
<rect x="501.75" y="207.90" width="28.00" height="7.70"/>
<rect x="502.10" y="216.00" width="27.30" height="7.70"/>
<rect x="494.85" y="224.10" width="41.80" height="7.70"/>
<rect x="487.50" y="232.20" width="56.50" height="7.70"/>
<rect x="487.50" y="240.30" width="56.50" height="7.70"/>
<rect x="501.75" y="248.40" width="28.00" height="7.70"/>
<rect x="489.70" y="256.50" width="52.10" height="7.70"/>
<rect x="511.20" y="264.60" width="9.10" height="7.70"/>
<rect x="493.65" y="272.70" width="44.20" height="7.70"/>
<rect x="502.50" y="280.80" width="26.50" height="7.70"/>
<rect x="501.15" y="288.90" width="29.20" height="7.70"/>
<rect x="487.50" y="297.00" width="56.50" height="7.70"/>
<rect x="499.60" y="305.10" width="32.30" height="7.70"/>
<rect x="490.10" y="313.20" width="51.30" height="7.70"/>
<rect x="499.60" y="321.30" width="32.30" height="7.70"/>
<rect x="507.25" y="329.40" width="17.00" height="7.70"/>
<rect x="501.60" y="337.50" width="28.30" height="7.70"/>
<rect x="510.30" y="345.60" width="10.90" height="7.70"/>
<rect x="503.55" y="353.70" width="24.40" height="7.70"/>
<rect x="491.40" y="361.80" width="48.70" height="7.70"/>
<rect x="510.30" y="369.90" width="10.90" height="7.70"/>
<rect x="487.85" y="378.00" width="55.80" height="7.70"/>
<rect x="490.00" y="386.10" width="51.50" height="7.70"/>
<rect x="511.05" y="394.20" width="9.40" height="7.70"/>
<rect x="511.90" y="402.30" width="7.70" height="7.70"/>
<rect x="489.70" y="410.40" width="52.10" height="7.70"/>
<rect x="504.50" y="418.50" width="22.50" height="7.70"/>
<rect x="509.35" y="426.60" width="12.80" height="7.70"/>
<rect x="507.55" y="434.70" width="16.40" height="7.70"/>
<rect x="492.55" y="442.80" width="46.40" height="7.70"/>
<rect x="503.15" y="450.90" width="25.20" height="7.70"/>
<rect x="491.10" y="459.00" width="49.30" height="7.70"/>
<rect x="506.45" y="467.10" width="18.60" height="7.70"/>
<rect x="488.55" y="475.20" width="54.40" height="7.70"/>
<rect x="506.45" y="483.30" width="18.60" height="7.70"/>
<rect x="494.00" y="491.40" width="43.50" height="7.70"/>
<rect x="506.45" y="499.50" width="18.60" height="7.70"/>
<rect x="500.15" y="507.60" width="31.20" height="7.70"/>
<rect x="504.85" y="515.70" width="21.80" height="7.70"/>
<rect x="509.85" y="523.80" width="11.80" height="7.70"/>
<rect x="499.70" y="531.90" width="32.10" height="7.70"/>
<rect x="511.55" y="540.00" width="8.40" height="7.70"/>
<rect x="504.05" y="548.10" width="23.40" height="7.70"/>
<rect x="506.85" y="556.20" width="17.80" height="7.70"/>
<rect x="488.85" y="564.30" width="53.80" height="7.70"/>
<rect x="504.15" y="572.40" width="23.20" height="7.70"/>
<rect x="493.65" y="580.50" width="44.20" height="7.70"/>
</g>
<g fill="url(#g5)" stroke="#15a874" stroke-width="1">
<rect x="548.50" y="175.50" width="49.50" height="7.70"/>
<rect x="550.55" y="183.60" width="45.40" height="7.70"/>
<rect x="561.30" y="191.70" width="23.90" height="7.70"/>
<rect x="569.75" y="199.80" width="7.00" height="7.70"/>
<rect x="559.20" y="207.90" width="28.10" height="7.70"/>
<rect x="560.35" y="216.00" width="25.80" height="7.70"/>
<rect x="545.85" y="224.10" width="54.80" height="7.70"/>
<rect x="565.05" y="232.20" width="16.40" height="7.70"/>
<rect x="564.20" y="240.30" width="18.10" height="7.70"/>
<rect x="564.45" y="248.40" width="17.60" height="7.70"/>
<rect x="560.70" y="256.50" width="25.10" height="7.70"/>
<rect x="545.85" y="264.60" width="54.80" height="7.70"/>
<rect x="559.75" y="272.70" width="27.00" height="7.70"/>
<rect x="546.95" y="280.80" width="52.60" height="7.70"/>
<rect x="564.70" y="288.90" width="17.10" height="7.70"/>
<rect x="546.80" y="297.00" width="52.90" height="7.70"/>
<rect x="567.75" y="305.10" width="11.00" height="7.70"/>
<rect x="556.55" y="313.20" width="33.40" height="7.70"/>
<rect x="546.55" y="321.30" width="53.40" height="7.70"/>
<rect x="561.05" y="329.40" width="24.40" height="7.70"/>
<rect x="556.20" y="337.50" width="34.10" height="7.70"/>
<rect x="560.70" y="345.60" width="25.10" height="7.70"/>
<rect x="545.00" y="353.70" width="56.50" height="7.70"/>
<rect x="567.75" y="361.80" width="11.00" height="7.70"/>
<rect x="552.60" y="369.90" width="41.30" height="7.70"/>
<rect x="547.80" y="378.00" width="50.90" height="7.70"/>
<rect x="569.75" y="386.10" width="7.00" height="7.70"/>
<rect x="555.50" y="394.20" width="35.50" height="7.70"/>
<rect x="558.45" y="402.30" width="29.60" height="7.70"/>
<rect x="569.75" y="410.40" width="7.00" height="7.70"/>
<rect x="569.75" y="418.50" width="7.00" height="7.70"/>
<rect x="562.30" y="426.60" width="21.90" height="7.70"/>
<rect x="557.45" y="434.70" width="31.60" height="7.70"/>
<rect x="571.20" y="442.80" width="4.10" height="7.70"/>
<rect x="557.95" y="450.90" width="30.60" height="7.70"/>
<rect x="568.70" y="459.00" width="9.10" height="7.70"/>
<rect x="566.15" y="467.10" width="14.20" height="7.70"/>
<rect x="565.20" y="475.20" width="16.10" height="7.70"/>
<rect x="569.75" y="483.30" width="7.00" height="7.70"/>
<rect x="569.75" y="491.40" width="7.00" height="7.70"/>
<rect x="545.50" y="499.50" width="55.50" height="7.70"/>
<rect x="556.55" y="507.60" width="33.40" height="7.70"/>
<rect x="547.50" y="515.70" width="51.50" height="7.70"/>
<rect x="554.70" y="523.80" width="37.10" height="7.70"/>
<rect x="552.75" y="531.90" width="41.00" height="7.70"/>
<rect x="545.25" y="540.00" width="56.00" height="7.70"/>
<rect x="560.20" y="548.10" width="26.10" height="7.70"/>
<rect x="562.30" y="556.20" width="21.90" height="7.70"/>
<rect x="561.05" y="564.30" width="24.40" height="7.70"/>
<rect x="553.65" y="572.40" width="39.20" height="7.70"/>
<rect x="548.80" y="580.50" width="48.90" height="7.70"/>
</g>
<g fill="url(#g6)" stroke="#2879cf" stroke-width="1">
<rect x="627.90" y="175.50" width="5.70" height="7.70"/>
<rect x="607.90" y="183.60" width="45.70" height="7.70"/>
<rect x="619.30" y="191.70" width="22.90" height="7.70"/>
<rect x="626.75" y="199.80" width="8.00" height="7.70"/>
<rect x="625.15" y="207.90" width="11.20" height="7.70"/>
<rect x="626.70" y="216.00" width="8.10" height="7.70"/>
<rect x="619.30" y="224.10" width="22.90" height="7.70"/>
<rect x="629.05" y="232.20" width="3.40" height="7.70"/>
<rect x="610.95" y="240.30" width="39.60" height="7.70"/>
<rect x="608.90" y="248.40" width="43.70" height="7.70"/>
<rect x="622.20" y="256.50" width="17.10" height="7.70"/>
<rect x="605.50" y="264.60" width="50.50" height="7.70"/>
<rect x="610.95" y="272.70" width="39.60" height="7.70"/>
<rect x="605.50" y="280.80" width="50.50" height="7.70"/>
<rect x="614.15" y="288.90" width="33.20" height="7.70"/>
<rect x="605.50" y="297.00" width="50.50" height="7.70"/>
<rect x="602.50" y="305.10" width="56.50" height="7.70"/>
<rect x="610.60" y="313.20" width="40.30" height="7.70"/>
<rect x="610.95" y="321.30" width="39.60" height="7.70"/>
<rect x="628.95" y="329.40" width="3.60" height="7.70"/>
<rect x="613.40" y="337.50" width="34.70" height="7.70"/>
<rect x="616.05" y="345.60" width="29.40" height="7.70"/>
<rect x="616.75" y="353.70" width="28.00" height="7.70"/>
<rect x="618.00" y="361.80" width="25.50" height="7.70"/>
<rect x="624.15" y="369.90" width="13.20" height="7.70"/>
<rect x="622.40" y="378.00" width="16.70" height="7.70"/>
<rect x="614.95" y="386.10" width="31.60" height="7.70"/>
<rect x="624.15" y="394.20" width="13.20" height="7.70"/>
<rect x="604.20" y="402.30" width="53.10" height="7.70"/>
<rect x="602.50" y="410.40" width="56.50" height="7.70"/>
<rect x="608.20" y="418.50" width="45.10" height="7.70"/>
<rect x="611.30" y="426.60" width="38.90" height="7.70"/>
<rect x="624.50" y="434.70" width="12.50" height="7.70"/>
<rect x="620.75" y="442.80" width="20.00" height="7.70"/>
<rect x="609.70" y="450.90" width="42.10" height="7.70"/>
<rect x="614.70" y="459.00" width="32.10" height="7.70"/>
<rect x="621.25" y="467.10" width="19.00" height="7.70"/>
<rect x="623.80" y="475.20" width="13.90" height="7.70"/>
<rect x="626.70" y="483.30" width="8.10" height="7.70"/>
<rect x="619.65" y="491.40" width="22.20" height="7.70"/>
<rect x="608.65" y="499.50" width="44.20" height="7.70"/>
<rect x="628.35" y="507.60" width="4.80" height="7.70"/>
<rect x="610.25" y="515.70" width="41.00" height="7.70"/>
<rect x="614.00" y="523.80" width="33.50" height="7.70"/>
<rect x="613.70" y="531.90" width="34.10" height="7.70"/>
<rect x="628.70" y="540.00" width="4.10" height="7.70"/>
<rect x="611.45" y="548.10" width="38.60" height="7.70"/>
<rect x="614.00" y="556.20" width="33.50" height="7.70"/>
<rect x="606.80" y="564.30" width="47.90" height="7.70"/>
<rect x="615.80" y="572.40" width="29.90" height="7.70"/>
<rect x="618.00" y="580.50" width="25.50" height="7.70"/>
</g>
<g fill="url(#g7)" stroke="#c02947" stroke-width="1">
<rect x="664.60" y="175.50" width="47.30" height="7.70"/>
<rect x="672.60" y="183.60" width="31.30" height="7.70"/>
<rect x="678.95" y="191.70" width="18.60" height="7.70"/>
<rect x="668.65" y="199.80" width="39.20" height="7.70"/>
<rect x="668.95" y="207.90" width="38.60" height="7.70"/>
<rect x="670.85" y="216.00" width="34.80" height="7.70"/>
<rect x="674.45" y="224.10" width="27.60" height="7.70"/>
<rect x="681.85" y="232.20" width="12.80" height="7.70"/>
<rect x="676.80" y="240.30" width="22.90" height="7.70"/>
<rect x="665.75" y="248.40" width="45.00" height="7.70"/>
<rect x="678.65" y="256.50" width="19.20" height="7.70"/>
<rect x="684.75" y="264.60" width="7.00" height="7.70"/>
<rect x="673.15" y="272.70" width="30.20" height="7.70"/>
<rect x="669.90" y="280.80" width="36.70" height="7.70"/>
<rect x="682.60" y="288.90" width="11.30" height="7.70"/>
<rect x="665.90" y="297.00" width="44.70" height="7.70"/>
<rect x="676.20" y="305.10" width="24.10" height="7.70"/>
<rect x="676.20" y="313.20" width="24.10" height="7.70"/>
<rect x="662.45" y="321.30" width="51.60" height="7.70"/>
<rect x="672.80" y="329.40" width="30.90" height="7.70"/>
<rect x="666.50" y="337.50" width="43.50" height="7.70"/>
<rect x="683.90" y="345.60" width="8.70" height="7.70"/>
<rect x="680.05" y="353.70" width="16.40" height="7.70"/>
<rect x="680.55" y="361.80" width="15.40" height="7.70"/>
<rect x="680.55" y="369.90" width="15.40" height="7.70"/>
<rect x="678.65" y="378.00" width="19.20" height="7.70"/>
<rect x="665.40" y="386.10" width="45.70" height="7.70"/>
<rect x="660.00" y="394.20" width="56.50" height="7.70"/>
<rect x="679.70" y="402.30" width="17.10" height="7.70"/>
<rect x="680.20" y="410.40" width="16.10" height="7.70"/>
<rect x="660.00" y="418.50" width="56.50" height="7.70"/>
<rect x="676.45" y="426.60" width="23.60" height="7.70"/>
<rect x="666.00" y="434.70" width="44.50" height="7.70"/>
<rect x="685.20" y="442.80" width="6.10" height="7.70"/>
<rect x="663.60" y="450.90" width="49.30" height="7.70"/>
<rect x="683.30" y="459.00" width="9.90" height="7.70"/>
<rect x="676.45" y="467.10" width="23.60" height="7.70"/>
<rect x="669.30" y="475.20" width="37.90" height="7.70"/>
<rect x="685.25" y="483.30" width="6.00" height="7.70"/>
<rect x="667.75" y="491.40" width="41.00" height="7.70"/>
<rect x="680.90" y="499.50" width="14.70" height="7.70"/>
<rect x="670.70" y="507.60" width="35.10" height="7.70"/>
<rect x="684.75" y="515.70" width="7.00" height="7.70"/>
<rect x="683.75" y="523.80" width="9.00" height="7.70"/>
<rect x="674.60" y="531.90" width="27.30" height="7.70"/>
<rect x="664.85" y="540.00" width="46.80" height="7.70"/>
<rect x="685.10" y="548.10" width="6.30" height="7.70"/>
<rect x="664.25" y="556.20" width="48.00" height="7.70"/>
<rect x="667.35" y="564.30" width="41.80" height="7.70"/>
<rect x="685.10" y="572.40" width="6.30" height="7.70"/>
<rect x="677.10" y="580.50" width="22.30" height="7.70"/>
</g>
<text x="79.2" y="153.8" font-size="15" fill="#484848" font-family="Liberation Sans, sans-serif" textLength="42.3" lengthAdjust="spacing">List of</text>
<text x="79.2" y="174" font-size="15" fill="#484848" font-family="Liberation Sans, sans-serif" textLength="57.6" lengthAdjust="spacing">Country</text>
<rect x="91.5" y="194.35" width="11" height="11" rx="1.5" fill="#fff" stroke="#6b5c5c" stroke-width="1.1"/>
<path d="M93.90 199.45 L96.50 201.95 L101.20 195.85" fill="none" stroke="#5e4e4e" stroke-width="1.25"/>
<text x="110.2" y="204.50" font-size="13.8" fill="#666670" font-family="Liberation Sans, sans-serif" textLength="48.75" lengthAdjust="spacing">Ando…</text>
<rect x="91.5" y="220.30" width="11" height="11" rx="1.5" fill="#fff" stroke="#6b5c5c" stroke-width="1.1"/>
<path d="M93.90 225.40 L96.50 227.90 L101.20 221.80" fill="none" stroke="#5e4e4e" stroke-width="1.25"/>
<text x="110.2" y="230.45" font-size="13.8" fill="#666670" font-family="Liberation Sans, sans-serif" textLength="45.7" lengthAdjust="spacing">Belgi…</text>
<rect x="91.5" y="246.25" width="11" height="11" rx="1.5" fill="#fff" stroke="#6b5c5c" stroke-width="1.1"/>
<path d="M93.90 251.35 L96.50 253.85 L101.20 247.75" fill="none" stroke="#5e4e4e" stroke-width="1.25"/>
<text x="110.2" y="256.40" font-size="13.8" fill="#666670" font-family="Liberation Sans, sans-serif" textLength="46.4" lengthAdjust="spacing">Mexico</text>
<rect x="91.5" y="272.20" width="11" height="11" rx="1.5" fill="#fff" stroke="#6b5c5c" stroke-width="1.1"/>
<path d="M93.90 277.30 L96.50 279.80 L101.20 273.70" fill="none" stroke="#5e4e4e" stroke-width="1.25"/>
<text x="110.2" y="282.35" font-size="13.8" fill="#666670" font-family="Liberation Sans, sans-serif" textLength="30" lengthAdjust="spacing">Syria</text>
<rect x="91.5" y="298.15" width="11" height="11" rx="1.5" fill="#fff" stroke="#6b5c5c" stroke-width="1.1"/>
<path d="M93.90 303.25 L96.50 305.75 L101.20 299.65" fill="none" stroke="#5e4e4e" stroke-width="1.25"/>
<text x="110.2" y="308.30" font-size="13.8" fill="#666670" font-family="Liberation Sans, sans-serif" textLength="47.4" lengthAdjust="spacing">Unite…</text>
<rect x="91.5" y="324.10" width="11" height="11" rx="1.5" fill="#fff" stroke="#6b5c5c" stroke-width="1.1"/>
<path d="M93.90 329.20 L96.50 331.70 L101.20 325.60" fill="none" stroke="#5e4e4e" stroke-width="1.25"/>
<text x="110.2" y="334.25" font-size="13.8" fill="#666670" font-family="Liberation Sans, sans-serif" textLength="47.4" lengthAdjust="spacing">Unite…</text>
<rect x="91.5" y="350.05" width="11" height="11" rx="1.5" fill="#fff" stroke="#6b5c5c" stroke-width="1.1"/>
<path d="M93.90 355.15 L96.50 357.65 L101.20 351.55" fill="none" stroke="#5e4e4e" stroke-width="1.25"/>
<text x="110.2" y="360.20" font-size="13.8" fill="#666670" font-family="Liberation Sans, sans-serif" textLength="47.4" lengthAdjust="spacing">Unite…</text>
<rect x="91.5" y="376.00" width="11" height="11" rx="1.5" fill="#fff" stroke="#6b5c5c" stroke-width="1.1"/>
<path d="M93.90 381.10 L96.50 383.60 L101.20 377.50" fill="none" stroke="#5e4e4e" stroke-width="1.25"/>
<text x="110.2" y="386.15" font-size="13.8" fill="#666670" font-family="Liberation Sans, sans-serif" textLength="46.4" lengthAdjust="spacing">Zimb…</text>
<rect x="218.75" y="665.0" width="11.5" height="11" fill="url(#g0)" stroke="#58c9c6" stroke-opacity="0.6" stroke-width="1"/>
<text class="ct" x="235" y="674.5" font-size="12.1" textLength="44.5" lengthAdjust="spacingAndGlyphs">Andorra</text>
<rect x="285.0" y="665.0" width="11.5" height="11" fill="url(#g1)" stroke="#6a6ae7" stroke-opacity="0.6" stroke-width="1"/>
<text class="ct" x="300.5" y="674.5" font-size="12.1" textLength="45.75" lengthAdjust="spacingAndGlyphs">Belgium</text>
<rect x="351.75" y="665.0" width="11.5" height="11" fill="url(#g2)" stroke="#9dca5c" stroke-opacity="0.6" stroke-width="1"/>
<text class="ct" x="367.5" y="674.5" font-size="12.1" textLength="38.25" lengthAdjust="spacingAndGlyphs">Mexico</text>
<rect x="411.25" y="665.0" width="11.5" height="11" fill="url(#g3)" stroke="#b069ae" stroke-opacity="0.6" stroke-width="1"/>
<text class="ct" x="427" y="674.5" font-size="12.1" textLength="28" lengthAdjust="spacingAndGlyphs">Syria</text>
<rect x="460.5" y="665.0" width="11.5" height="11" fill="url(#g4)" stroke="#dfa243" stroke-opacity="0.6" stroke-width="1"/>
<text class="ct" x="476.25" y="674.5" font-size="12.1" textLength="122" lengthAdjust="spacingAndGlyphs">United Arab Emirates</text>
<rect x="602.9" y="665.0" width="11.5" height="11" fill="url(#g5)" stroke="#3bcd9c" stroke-opacity="0.6" stroke-width="1"/>
<text class="ct" x="618.9" y="674.5" font-size="12.1" textLength="91" lengthAdjust="spacingAndGlyphs">United Kingdom</text>
<rect x="378.75" y="681.5" width="11.5" height="11" fill="url(#g6)" stroke="#5aa6ee" stroke-opacity="0.6" stroke-width="1"/>
<text class="ct" x="394.5" y="691" font-size="12.1" textLength="77.5" lengthAdjust="spacingAndGlyphs">United States</text>
<rect x="476.75" y="681.5" width="11.5" height="11" fill="url(#g7)" stroke="#e8738a" stroke-opacity="0.6" stroke-width="1"/>
<text class="ct" x="492.5" y="691" font-size="12.1" textLength="58.75" lengthAdjust="spacingAndGlyphs">Zimbabwe</text>
</svg><!--CHARTEND-->
<div class="btn" style="left:211px;width:248px;background:#fff">Left Aligned</div>
<div class="btn" style="left:458px;width:266px;background:#eeeeee;border-color:#7c7c7c">Center Aligned</div>
</body></html>
